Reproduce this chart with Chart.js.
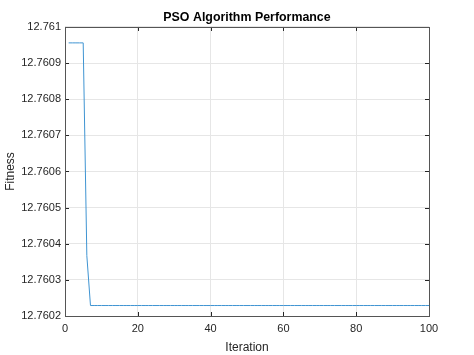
<!DOCTYPE html>
<html>
<head>
<meta charset="utf-8">
<script src="https://cdn.jsdelivr.net/npm/chart.js@4/dist/chart.umd.min.js"></script>
<style>
  html, body { margin: 0; padding: 0; background: #fff; }
  #wrap { width: 474px; height: 355px; }
</style>
</head>
<body>
<div id="wrap"><canvas id="c" width="474" height="355"></canvas></div>
<script>
const chartTitle = 'PSO Algorithm Performance';
const xLabel = 'Iteration';
const yLabel = 'Fitness';
const xTicks = [0, 20, 40, 60, 80, 100];
const yTicks = [12.7602, 12.7603, 12.7604, 12.7605, 12.7606, 12.7607, 12.7608, 12.7609, 12.761];
const fitness = [
  12.760956, 12.760956, 12.760956, 12.760956, 12.760956,
  12.760367, 12.760229, 12.760229, 12.760229, 12.760229,
  12.760229, 12.760229, 12.760229, 12.760229, 12.760229,
  12.760229, 12.760229, 12.760229, 12.760229, 12.760229,
  12.760229, 12.760229, 12.760229, 12.760229, 12.760229,
  12.760229, 12.760229, 12.760229, 12.760229, 12.760229,
  12.760229, 12.760229, 12.760229, 12.760229, 12.760229,
  12.760229, 12.760229, 12.760229, 12.760229, 12.760229,
  12.760229, 12.760229, 12.760229, 12.760229, 12.760229,
  12.760229, 12.760229, 12.760229, 12.760229, 12.760229,
  12.760229, 12.760229, 12.760229, 12.760229, 12.760229,
  12.760229, 12.760229, 12.760229, 12.760229, 12.760229,
  12.760229, 12.760229, 12.760229, 12.760229, 12.760229,
  12.760229, 12.760229, 12.760229, 12.760229, 12.760229,
  12.760229, 12.760229, 12.760229, 12.760229, 12.760229,
  12.760229, 12.760229, 12.760229, 12.760229, 12.760229,
  12.760229, 12.760229, 12.760229, 12.760229, 12.760229,
  12.760229, 12.760229, 12.760229, 12.760229, 12.760229,
  12.760229, 12.760229, 12.760229, 12.760229, 12.760229,
  12.760229, 12.760229, 12.760229, 12.760229, 12.760229
];
const iterations = fitness.map((_, i) => i + 1);

const FONT = '"Liberation Sans", Arial, Helvetica, sans-serif';
const TEXT = '#262626';

const boxPlugin = {
  id: 'boxPlugin',
  afterDatasetsDraw(chart) {
    const { ctx, chartArea: a, scales } = chart;
    ctx.save();
    ctx.strokeStyle = '#262626';
    ctx.lineWidth = 1;
    ctx.beginPath();
    const L = 4;
    xTicks.forEach(v => {
      const x = Math.round(scales.x.getPixelForValue(v)) + 0.5;
      ctx.moveTo(x, a.bottom); ctx.lineTo(x, a.bottom - L);
      ctx.moveTo(x, a.top); ctx.lineTo(x, a.top + L);
    });
    yTicks.forEach(v => {
      const y = Math.round(scales.y.getPixelForValue(v)) + 0.5;
      ctx.moveTo(a.left, y); ctx.lineTo(a.left + L, y);
      ctx.moveTo(a.right, y); ctx.lineTo(a.right - L, y);
    });
    ctx.stroke();
    ctx.strokeStyle = '#555';
    ctx.strokeRect(Math.round(a.left) + 0.5, Math.round(a.top) + 0.5,
                   Math.round(a.right - a.left), Math.round(a.bottom - a.top));
    ctx.restore();
  }
};

new Chart(document.getElementById('c'), {
  type: 'line',
  data: {
    datasets: [{
      data: iterations.map((x, i) => ({ x, y: fitness[i] })),
      borderColor: '#3f94d2',
      borderWidth: 1,
      pointRadius: 0,
      tension: 0,
      fill: false
    }]
  },
  options: {
    responsive: false,
    animation: false,
    devicePixelRatio: 1,
    layout: { padding: { top: 0, right: 45, bottom: 0, left: 0 } },
    plugins: {
      legend: { display: false },
      tooltip: { enabled: false },
      title: {
        display: true,
        text: chartTitle,
        fullSize: false,
        color: '#000',
        font: { family: FONT, size: 12.4, weight: 'bold', lineHeight: 1.2 },
        padding: { top: 10, bottom: 2.1 }
      }
    },
    scales: {
      x: {
        type: 'linear',
        min: 0, max: 100,
        afterBuildTicks: s => { s.ticks = xTicks.map(v => ({ value: v })); },
        afterFit: s => { s.height = 39; },
        grid: { color: '#e6e6e6', drawTicks: false },
        border: { display: false },
        ticks: { color: TEXT, font: { family: FONT, size: 11 }, padding: 6, maxRotation: 0 },
        title: { display: true, text: xLabel, color: TEXT, font: { family: FONT, size: 12 }, padding: { top: 2.8, bottom: 0 } }
      },
      y: {
        type: 'linear',
        min: 12.7602, max: 12.761,
        afterBuildTicks: s => { s.ticks = yTicks.map(v => ({ value: v })); },
        afterFit: s => { s.width = 65; },
        grid: { color: '#e6e6e6', drawTicks: false },
        border: { display: false },
        ticks: {
          color: TEXT, font: { family: FONT, size: 11 }, padding: 4,
          callback: v => String(parseFloat(v.toFixed(4)))
        },
        title: { display: true, text: yLabel, color: TEXT, font: { family: FONT, size: 12 }, padding: { top: 3, bottom: 0 } }
      }
    }
  },
  plugins: [boxPlugin]
});
</script>
</body>
</html>
